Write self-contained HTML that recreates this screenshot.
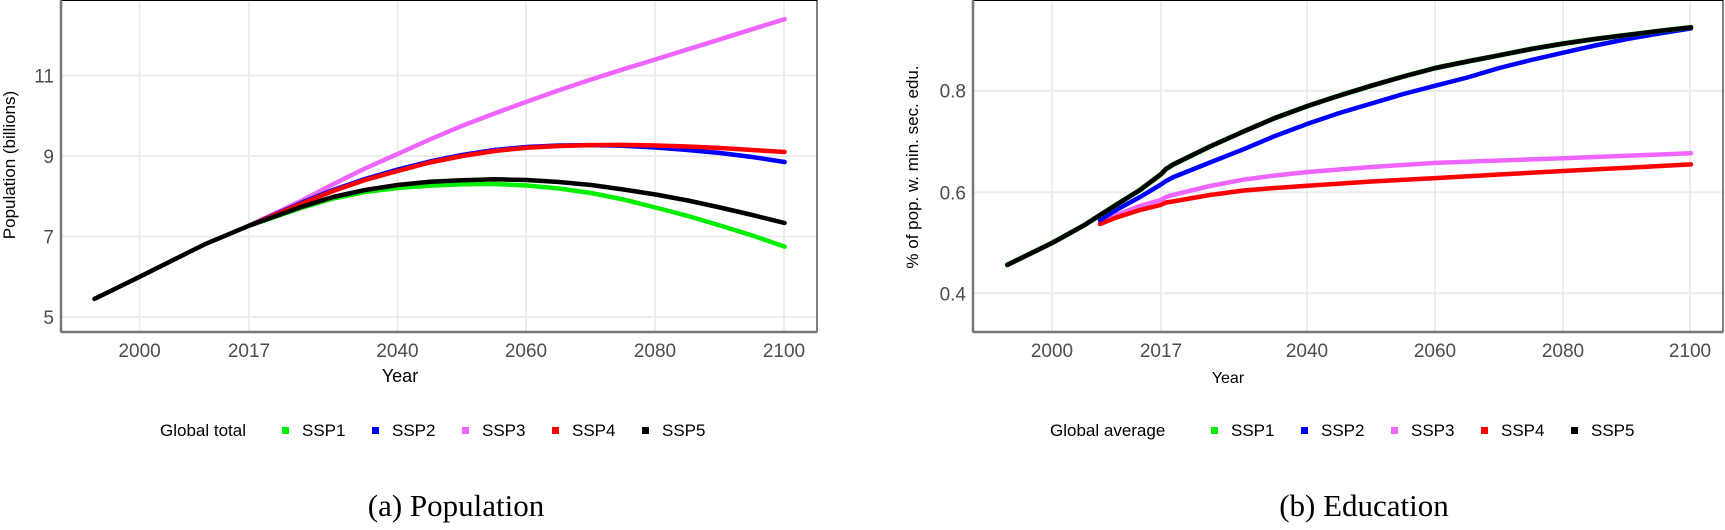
<!DOCTYPE html>
<html><head><meta charset="utf-8"><style>
body{margin:0;background:#fff}
svg text{font-family:"Liberation Sans",sans-serif}
svg text.cap{font-family:"Liberation Serif",serif}
</style></head><body>
<svg width="1725" height="525" viewBox="0 0 1725 525" xmlns="http://www.w3.org/2000/svg">
<g stroke="#ececec" stroke-width="2">
<line x1="61" y1="75.5" x2="817" y2="75.5"/><line x1="61" y1="156" x2="817" y2="156"/><line x1="61" y1="236.5" x2="817" y2="236.5"/><line x1="61" y1="317" x2="817" y2="317"/>
<line x1="139.6" y1="0" x2="139.6" y2="332"/><line x1="249" y1="0" x2="249" y2="332"/><line x1="397.5" y1="0" x2="397.5" y2="332"/><line x1="526" y1="0" x2="526" y2="332"/><line x1="655" y1="0" x2="655" y2="332"/><line x1="784" y1="0" x2="784" y2="332"/>
<line x1="973" y1="90.7" x2="1723" y2="90.7"/><line x1="973" y1="192.3" x2="1723" y2="192.3"/><line x1="973" y1="293.3" x2="1723" y2="293.3"/>
<line x1="1052" y1="0" x2="1052" y2="332"/><line x1="1161" y1="0" x2="1161" y2="332"/><line x1="1307" y1="0" x2="1307" y2="332"/><line x1="1435" y1="0" x2="1435" y2="332"/><line x1="1563" y1="0" x2="1563" y2="332"/><line x1="1690" y1="0" x2="1690" y2="332"/>
</g>
<rect x="61" y="0.5" width="756" height="331.5" fill="none" stroke="#000" stroke-width="1"/>
<rect x="973" y="0.5" width="750" height="331.5" fill="none" stroke="#000" stroke-width="1"/>
<g stroke="#777" stroke-width="2.5"><line x1="61" y1="0" x2="61" y2="332"/><line x1="61" y1="332" x2="817" y2="332"/><line x1="973" y1="0" x2="973" y2="332"/><line x1="973" y1="332" x2="1723" y2="332"/></g>
<g fill="none" stroke-width="4.5" stroke-linejoin="round" stroke-linecap="round">
<polyline stroke="#ee66ff" points="249.3,225.6 300.9,201 333.1,184.2 365,168.5 397.6,154 429.8,139.5 462.1,125.8 494.4,113.5 526.6,101.7 558.9,90.3 591.1,79.5 623.4,69.2 655.6,59.4 687.9,49.3 720.1,39.3 752.3,29.2 784.6,19.2"/>
<polyline stroke="#0000ff" points="249.3,225.6 300.9,203 333.1,190 365,179 397.6,169.5 429.8,161.5 462.1,155 494.4,150 526.6,147 558.9,145.5 591.1,145.1 623.4,145.8 655.6,147.5 687.9,150 720.1,153 752.3,157 784.6,162"/>
<polyline stroke="#ff0000" points="249.3,225.6 300.9,204 333.1,191 365,180 397.6,171 429.8,162.5 462.1,156 494.4,151 526.6,147.8 558.9,146 591.1,145.1 623.4,144.9 655.6,145.5 687.9,146.5 720.1,148 752.3,150 784.6,152"/>
<polyline stroke="#00ee00" points="249.3,225.6 300.9,208 333.1,198.5 365,192 397.6,188 429.8,185.6 462.1,184.2 494.4,184 526.6,185.5 558.9,188.5 591.1,193 623.4,199.5 655.6,207.5 687.9,216 720.1,225.5 752.3,235.5 784.6,246.6"/>
<polyline stroke="#000000" points="94.5,298.9 139.6,276.8 204.1,244.6 249.3,225.6 300.9,207 333.1,197 365,190 397.6,185 429.8,181.8 462.1,180.2 494.4,179.3 526.6,180 558.9,182 591.1,185 623.4,189.5 655.6,194.5 687.9,200.5 720.1,207.5 752.3,215 784.6,223"/>
</g>
<g fill="none" stroke-width="4.5" stroke-linejoin="round" stroke-linecap="round">
<polyline stroke="#ee66ff" points="1100,222 1115.9,215.1 1140,206 1160.6,200 1166,197 1173.4,194.8 1210,186 1243.7,179.6 1275,175.5 1307.6,172 1371.5,167 1435.4,162.9 1499.3,160.5 1563.2,158.3 1627.1,155.8 1691,153.2"/>
<polyline stroke="#ff0000" points="1100,224 1115.9,217.7 1140,210 1160.6,205 1166,202.5 1173.4,201.4 1210,195 1243.7,190.5 1275,188 1307.6,185.7 1371.5,181.5 1435.4,178.1 1499.3,174.5 1563.2,171 1627.1,167.8 1691,164.4"/>
<polyline stroke="#0000ff" points="1100,220 1115.9,210.1 1140,197 1160.6,184.7 1166,181 1173.4,177.1 1210,162.5 1243.7,149.2 1275,136 1307.6,123.8 1339.5,113 1371.5,103.5 1403.4,94 1435.4,85.7 1467.3,77.5 1499.3,68 1531.2,60 1563.2,52.7 1595.1,45.5 1627.1,39 1659,33.5 1691,28.4"/>
<polyline stroke="#00bb00" stroke-width="5" points="1007.3,264.9 1052,243 1084,225.3 1115.9,205 1140,190 1160.6,174.5 1166,169 1173.4,164.4 1210,146.5 1243.7,131.4 1275,118 1307.6,106 1339.5,95.5 1371.5,85.7 1403.4,76.5 1435.4,68 1467.3,61.5 1499.3,55.3 1531.2,49 1563.2,43.6 1595.1,39 1627.1,35 1659,31 1691,27.4"/>
<polyline stroke="#000000" points="1007.3,264.9 1052,243 1084,225.3 1115.9,205 1140,190 1160.6,174.5 1166,169 1173.4,164.4 1210,146.5 1243.7,131.4 1275,118 1307.6,106 1339.5,95.5 1371.5,85.7 1403.4,76.5 1435.4,68 1467.3,61.5 1499.3,55.3 1531.2,49 1563.2,43.6 1595.1,39 1627.1,35 1659,31 1691,27.4"/>
</g>
<g font-size="19" fill="#4d4d4d">
<g text-anchor="end"><text x="54" y="82.5">11</text><text x="54" y="163">9</text><text x="54" y="243.5">7</text><text x="54" y="324">5</text>
<text x="966" y="97.7">0.8</text><text x="966" y="199.3">0.6</text><text x="966" y="300.3">0.4</text></g>
<g text-anchor="middle"><text x="139.6" y="357">2000</text><text x="249" y="357">2017</text><text x="397.5" y="357">2040</text><text x="526" y="357">2060</text><text x="655" y="357">2080</text><text x="784" y="357">2100</text>
<text x="1052" y="357">2000</text><text x="1161" y="357">2017</text><text x="1307" y="357">2040</text><text x="1435" y="357">2060</text><text x="1563" y="357">2080</text><text x="1690" y="357">2100</text></g>
</g>
<text x="400" y="382" font-size="18" text-anchor="middle">Year</text>
<text x="1228" y="383" font-size="16" text-anchor="middle">Year</text>
<text transform="translate(15,165) rotate(-90)" font-size="17" text-anchor="middle">Population (billions)</text>
<text transform="translate(918,167) rotate(-90)" font-size="17" text-anchor="middle">% of pop. w. min. sec. edu.</text>
<g font-size="17">
<text x="160" y="436">Global total</text>
<rect x="282" y="427" width="7" height="7" fill="#00ee00"/><text x="302" y="436">SSP1</text>
<rect x="372" y="427" width="7" height="7" fill="#0000ff"/><text x="392" y="436">SSP2</text>
<rect x="462" y="427" width="7" height="7" fill="#ee66ff"/><text x="482" y="436">SSP3</text>
<rect x="552" y="427" width="7" height="7" fill="#ff0000"/><text x="572" y="436">SSP4</text>
<rect x="642" y="427" width="7" height="7" fill="#000"/><text x="662" y="436">SSP5</text>
<text x="1050" y="436">Global average</text>
<rect x="1211" y="427" width="7" height="7" fill="#00ee00"/><text x="1231" y="436">SSP1</text>
<rect x="1301" y="427" width="7" height="7" fill="#0000ff"/><text x="1321" y="436">SSP2</text>
<rect x="1391" y="427" width="7" height="7" fill="#ee66ff"/><text x="1411" y="436">SSP3</text>
<rect x="1481" y="427" width="7" height="7" fill="#ff0000"/><text x="1501" y="436">SSP4</text>
<rect x="1571" y="427" width="7" height="7" fill="#000"/><text x="1591" y="436">SSP5</text>
</g>
<text class="cap" x="456" y="516" font-size="31" text-anchor="middle">(a) Population</text>
<text class="cap" x="1364" y="516" font-size="31" text-anchor="middle">(b) Education</text>
</svg>
</body></html>
